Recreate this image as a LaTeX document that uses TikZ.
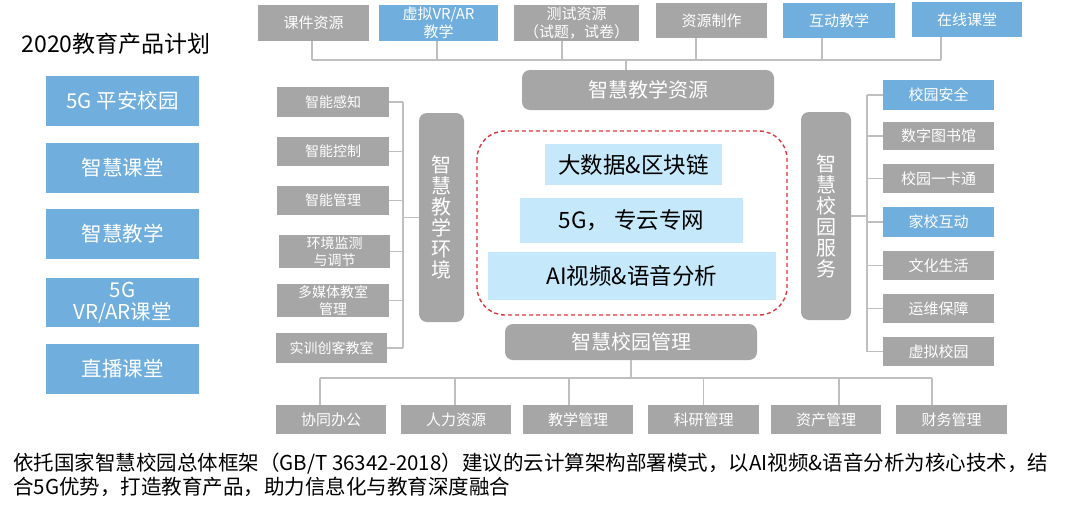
\documentclass[tikz,border=0pt]{standalone}
\usepackage{fontspec}
\setmainfont{Noto Sans CJK SC}
\usetikzlibrary{calc}
\definecolor{boxgray}{HTML}{A6A6A6}
\definecolor{boxblue}{HTML}{70AEDD}
\definecolor{lightblue}{HTML}{C5E9FA}
\definecolor{linegray}{HTML}{BFBFBF}
\definecolor{dashred}{HTML}{E0363C}
\newcommand\fs[2]{\fontsize{#1}{#2}\selectfont}
\newcommand\bx[7]{\node[#1, minimum width={(#5-#3)*1pt}, minimum height={(#6-#4)*1pt}] (#2) at ({(#3+#5)/2},{(#4+#6)/2}) {#7};}
\tikzset{
  base/.style={inner sep=0pt, outer sep=0pt, align=center, rectangle},
  gb/.style={base, fill=boxgray, text=white, font=\fs{15}{18}},
  bb/.style={base, fill=boxblue, text=white, font=\fs{15}{18}},
  gbs/.style={base, fill=boxgray, text=white, font=\fs{14}{17}},
  lb/.style={base, fill=boxblue, text=white, font=\fs{20.5}{22}},
  big/.style={base, fill=boxgray, text=white, rounded corners=8pt, font=\fs{20}{22}},
  vbig/.style={base, fill=boxgray, text=white, rounded corners=8pt, font=\fs{20}{21}},
  core/.style={base, fill=lightblue, text=black, font=\fs{22.5}{24}},
  conn/.style={draw=linegray, line width=1.3pt},
}
\begin{document}
\begin{tikzpicture}[x=1pt,y=-1pt]
\useasboundingbox[fill=white] (0,0) rectangle (1080,512);

% title
\node[font=\fs{23}{26}, anchor=center] (title) at (116,44) {2020教育产品计划};

% left product column
\bx{lb}{p1}{46}{76}{199}{126}{5G 平安校园}
\bx{lb}{p2}{46}{143}{199}{193}{智慧课堂}
\bx{lb}{p3}{46}{209}{199}{259}{智慧教学}
\bx{lb}{p4}{46}{278}{199}{327}{5G\\VR/AR课堂}
\bx{lb}{p5}{46}{344}{199}{394}{直播课堂}

% top resources
\bx{gb}{t1}{258}{5}{369}{41}{课件资源}
\bx{bb}{t2}{379}{5}{498}{41}{虚拟VR/AR\\教学}
\bx{gb}{t3}{514}{5}{639}{41}{测试资源\\（试题，试卷）}
\bx{gb}{t4}{656}{3}{767}{38}{资源制作}
\bx{bb}{t5}{783}{3}{895}{38}{互动教学}
\bx{bb}{t6}{912}{2}{1022}{37}{在线课堂}
\bx{big}{res}{522}{70}{774}{110}{智慧教学资源}

\coordinate (tb) at (0,60);
\coordinate (c1) at ([xshift=-1.5pt]t1.south);
\coordinate (c2) at ([xshift=-1.5pt]t2.south);
\coordinate (c3) at ([xshift=-14.5pt]t3.south);
\coordinate (c4) at ([xshift=-15.5pt]t4.south);
\coordinate (c5) at ([xshift=-17pt]t5.south);
\coordinate (c6) at ([xshift=-26pt]t6.south);
\coordinate (cr) at ([xshift=-22pt]res.north);
\foreach \c in {c1,c2,c3,c4,c5,c6,cr}{\draw[conn] (\c) -- (\c |- tb);}
\draw[conn] (c1 |- tb) -- (c6 |- tb);

% left environment
\bx{gbs}{e1}{277}{87}{389}{117}{智能感知}
\bx{gbs}{e2}{277}{137}{389}{166}{智能控制}
\bx{gbs}{e3}{277}{186}{389}{215}{智能管理}
\bx{gbs}{e4}{279}{235}{390}{268}{环境监测\\与调节}
\bx{gbs}{e5}{277}{284}{389}{317}{多媒体教室\\管理}
\bx{gbs}{e6}{276}{333}{387}{363}{实训创客教室}
\bx{vbig}{env}{419}{113}{464}{322}{智\\慧\\教\\学\\环\\境}
\coordinate (lb) at (403,0);
\foreach \e in {e1,e2,e3,e4,e5,e6}{\draw[conn] (\e.east) -- (\e.east -| lb);}
\draw[conn] (e1.east -| lb) -- (e6.east -| lb);
\draw[conn] (env.west) -- (env.west -| lb);

% center core
\draw[dashred, dashed, line width=1.4pt, dash pattern=on 4pt off 3pt, rounded corners=28pt] (477,131) rectangle (787,315);
\bx{core}{k1}{545}{144}{722}{185}{大数据\&区块链}
\bx{core}{k2}{520}{198}{743}{243}{5G， 专云专网}
\bx{core}{k3}{488}{252}{776}{300}{AI视频\&语音分析}

% right service
\bx{vbig}{srv}{801}{112}{851}{320}{智\\慧\\校\\园\\服\\务}
\bx{bb}{r1}{883}{80}{994}{110}{校园安全}
\bx{gb}{r2}{883}{122}{994}{150}{数字图书馆}
\bx{gb}{r3}{883}{164}{994}{193}{校园一卡通}
\bx{bb}{r4}{883}{207}{994}{237}{家校互动}
\bx{gb}{r5}{883}{251}{994}{280}{文化生活}
\bx{gb}{r6}{883}{294}{994}{323}{运维保障}
\bx{gb}{r7}{883}{337}{994}{366}{虚拟校园}
\coordinate (rb) at (867,0);
\foreach \r in {r1,r2,r3,r4,r5,r6,r7}{\draw[conn] (\r.west) -- (\r.west -| rb);}
\draw[conn] (r1.west -| rb) -- (r7.west -| rb);
\draw[conn] (srv.east) -- (srv.east -| rb);

% bottom management
\bx{big}{mgmt}{505}{324}{757}{360}{智慧校园管理}
\bx{gb}{b1}{276}{405}{386}{434}{协同办公}
\bx{gb}{b2}{401}{405}{511}{434}{人力资源}
\bx{gb}{b3}{523}{405}{633}{434}{教学管理}
\bx{gb}{b4}{648}{405}{759}{434}{科研管理}
\bx{gb}{b5}{771}{405}{881}{434}{资产管理}
\bx{gb}{b6}{896}{405}{1007}{434}{财务管理}
\coordinate (bbus) at (0,378);
\coordinate (d1) at ([xshift=-11pt]b1.north);
\coordinate (d2) at ([xshift=-1pt]b2.north);
\coordinate (d3) at ([xshift=-9pt]b3.north);
\coordinate (d4) at ([xshift=0pt]b4.north);
\coordinate (d5) at ([xshift=13pt]b5.north);
\coordinate (d6) at ([xshift=-19.5pt]b6.north);
\foreach \d in {d1,d2,d3,d4,d5,d6}{\draw[conn] (\d) -- (\d |- bbus);}
\draw[conn] (d1 |- bbus) -- (d6 |- bbus);
\draw[conn] (mgmt.south) -- (mgmt.south |- bbus);

% description
\node[anchor=north west, align=left, font=\fs{20.5}{24}, inner sep=0pt] (desc) at (13,453) {依托国家智慧校园总体框架（GB/T 36342-2018）建议的云计算架构部署模式，以AI视频\&语音分析为核心技术，结\\合5G优势，打造教育产品，助力信息化与教育深度融合};
\end{tikzpicture}
\end{document}
